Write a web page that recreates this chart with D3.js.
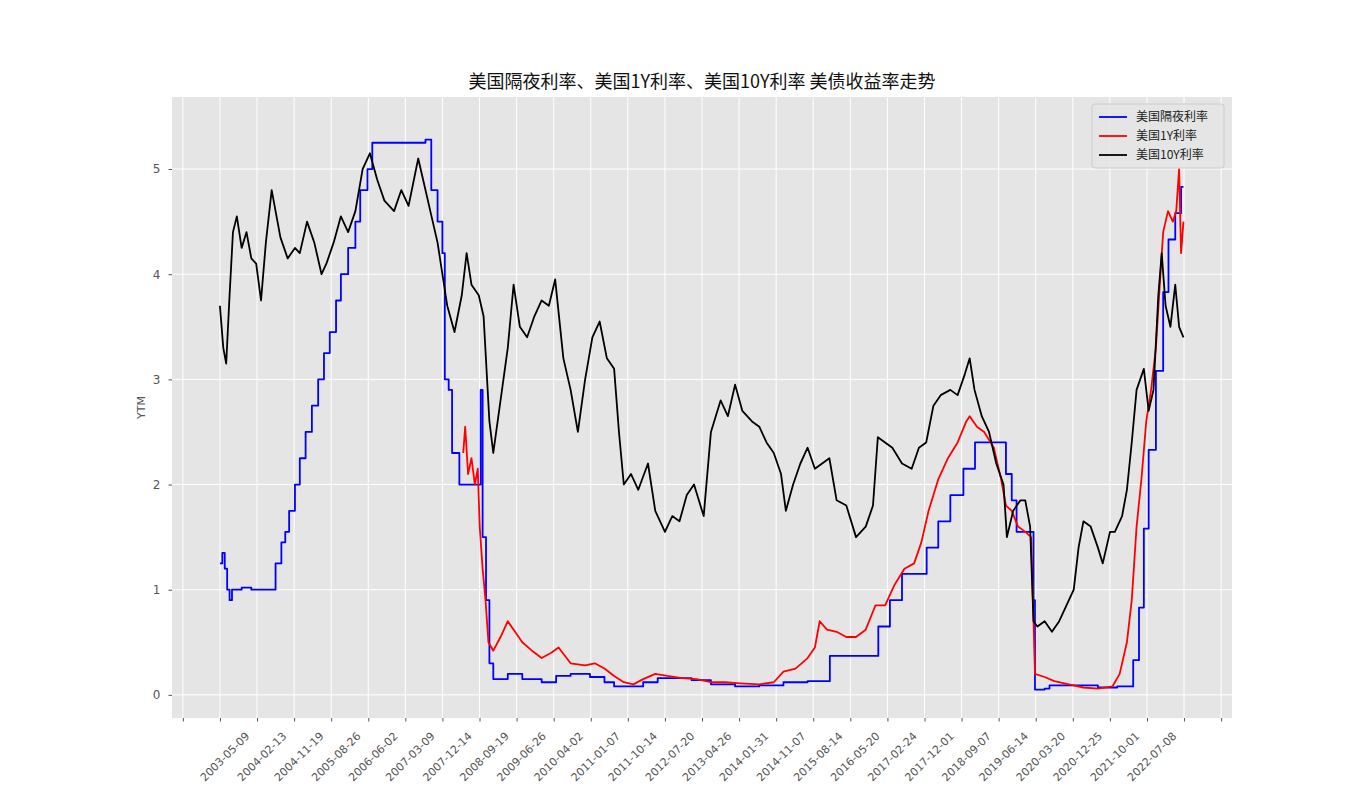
<!DOCTYPE html>
<html>
<head>
<meta charset="utf-8">
<script src="https://cdn.jsdelivr.net/npm/d3@7"></script>
<style>
  body { margin: 0; background: #fff; }
  text { font-family: "DejaVu Sans", "Noto Sans CJK SC", sans-serif; }
</style>
</head>
<body>
<svg id="chart" width="1368" height="808"></svg>
<script>
// readings from the picture: [year fraction, yield %]
var overnight = [
  [2003.35,1.25],[2003.40,1.35],[2003.45,1.2],[2003.5,1.0],[2003.55,0.9],[2003.6,1.0],[2003.8,1.02],
  [2004.0,1.0],[2004.45,1.0],[2004.5,1.25],[2004.62,1.45],[2004.7,1.55],[2004.78,1.75],[2004.9,2.0],
  [2005.0,2.25],[2005.12,2.5],[2005.25,2.75],[2005.38,3.0],[2005.5,3.25],[2005.62,3.45],[2005.75,3.75],
  [2005.85,4.0],[2006.0,4.25],[2006.15,4.5],[2006.25,4.8],[2006.4,5.0],[2006.5,5.25],[2007.6,5.28],
  [2007.72,4.8],[2007.85,4.5],[2007.95,4.2],[2008.0,3.0],[2008.08,2.9],[2008.15,2.3],[2008.3,2.0],
  [2008.7,2.0],[2008.74,2.9],[2008.78,1.5],[2008.85,0.9],[2008.92,0.3],[2009.0,0.15],[2009.3,0.2],
  [2009.6,0.15],[2010.0,0.12],[2010.3,0.18],[2010.6,0.2],[2011.0,0.17],[2011.3,0.12],[2011.5,0.08],
  [2011.8,0.08],[2012.1,0.12],[2012.4,0.16],[2012.8,0.16],[2013.1,0.14],[2013.5,0.1],[2014.0,0.08],
  [2014.5,0.09],[2015.0,0.12],[2015.5,0.13],[2015.96,0.37],[2016.96,0.65],[2017.2,0.9],[2017.45,1.15],
  [2017.96,1.4],[2018.2,1.65],[2018.45,1.9],[2018.72,2.15],[2018.96,2.4],[2019.56,2.4],[2019.6,2.1],
  [2019.72,1.85],[2019.82,1.55],[2020.17,0.9],[2020.2,0.05],[2020.4,0.06],[2020.5,0.09],[2021.0,0.09],
  [2021.5,0.07],[2021.9,0.08],[2022.23,0.33],[2022.35,0.83],[2022.45,1.58],[2022.55,2.33],[2022.7,3.08],
  [2022.85,3.83],[2022.96,4.33],[2023.1,4.58],[2023.22,4.83],[2023.27,4.83]
];
var oneYear = [
  [2008.38,2.3],[2008.42,2.55],[2008.48,2.1],[2008.55,2.25],[2008.62,2.0],[2008.68,2.15],[2008.72,1.6],
  [2008.78,1.2],[2008.84,0.9],[2008.9,0.5],[2009.0,0.42],[2009.15,0.55],[2009.3,0.7],[2009.45,0.6],
  [2009.6,0.5],[2009.8,0.42],[2010.0,0.35],[2010.2,0.4],[2010.35,0.45],[2010.6,0.3],[2010.9,0.28],
  [2011.1,0.3],[2011.3,0.25],[2011.5,0.18],[2011.7,0.12],[2011.9,0.1],[2012.1,0.15],[2012.35,0.2],
  [2012.6,0.18],[2012.9,0.16],[2013.2,0.15],[2013.5,0.12],[2013.8,0.12],[2014.1,0.11],[2014.5,0.1],
  [2014.8,0.12],[2015.0,0.22],[2015.25,0.25],[2015.5,0.35],[2015.65,0.45],[2015.75,0.7],[2015.9,0.62],
  [2016.1,0.6],[2016.3,0.55],[2016.5,0.55],[2016.7,0.62],[2016.9,0.85],[2017.1,0.85],[2017.3,1.05],
  [2017.5,1.2],[2017.7,1.25],[2017.85,1.45],[2018.0,1.75],[2018.2,2.05],[2018.4,2.25],[2018.6,2.4],
  [2018.78,2.6],[2018.85,2.65],[2019.0,2.55],[2019.15,2.5],[2019.35,2.35],[2019.5,2.05],[2019.6,1.8],
  [2019.72,1.75],[2019.85,1.6],[2020.0,1.55],[2020.12,1.5],[2020.17,0.7],[2020.2,0.2],[2020.4,0.17],
  [2020.6,0.13],[2020.9,0.1],[2021.2,0.07],[2021.5,0.06],[2021.8,0.08],[2021.95,0.2],[2022.1,0.5],
  [2022.2,0.9],[2022.3,1.6],[2022.4,2.05],[2022.5,2.6],[2022.6,2.9],[2022.7,3.3],[2022.78,3.9],
  [2022.85,4.4],[2022.95,4.6],[2023.05,4.5],[2023.12,4.6],[2023.18,5.0],[2023.22,4.2],[2023.27,4.5]
];
var tenYear = [
  [2003.35,3.7],[2003.42,3.3],[2003.48,3.15],[2003.55,3.8],[2003.62,4.4],[2003.7,4.55],[2003.8,4.25],
  [2003.9,4.4],[2004.0,4.15],[2004.1,4.1],[2004.2,3.75],[2004.3,4.3],[2004.42,4.8],[2004.5,4.6],
  [2004.6,4.35],[2004.75,4.15],[2004.9,4.25],[2005.0,4.2],[2005.15,4.5],[2005.3,4.3],[2005.45,4.0],
  [2005.55,4.1],[2005.7,4.3],[2005.85,4.55],[2006.0,4.4],[2006.15,4.6],[2006.3,5.0],[2006.45,5.15],
  [2006.6,4.9],[2006.75,4.7],[2006.95,4.6],[2007.1,4.8],[2007.25,4.65],[2007.45,5.1],[2007.55,4.9],
  [2007.7,4.6],[2007.85,4.3],[2007.95,4.0],[2008.05,3.7],[2008.2,3.45],[2008.35,3.8],[2008.45,4.2],
  [2008.55,3.9],[2008.7,3.8],[2008.8,3.6],[2008.92,2.6],[2009.0,2.3],[2009.15,2.8],[2009.3,3.3],
  [2009.42,3.9],[2009.55,3.5],[2009.7,3.4],[2009.85,3.6],[2010.0,3.75],[2010.15,3.7],[2010.28,3.95],
  [2010.45,3.2],[2010.6,2.9],[2010.75,2.5],[2010.9,3.0],[2011.05,3.4],[2011.2,3.55],[2011.35,3.2],
  [2011.5,3.1],[2011.6,2.5],[2011.7,2.0],[2011.85,2.1],[2012.0,1.95],[2012.2,2.2],[2012.35,1.75],
  [2012.55,1.55],[2012.7,1.7],[2012.85,1.65],[2013.0,1.9],[2013.15,2.0],[2013.35,1.7],[2013.5,2.5],
  [2013.7,2.8],[2013.85,2.65],[2014.0,2.95],[2014.15,2.7],[2014.35,2.6],[2014.5,2.55],[2014.65,2.4],
  [2014.8,2.3],[2014.95,2.1],[2015.05,1.75],[2015.2,2.0],[2015.35,2.2],[2015.5,2.35],[2015.65,2.15],
  [2015.8,2.2],[2015.95,2.25],[2016.1,1.85],[2016.3,1.8],[2016.5,1.5],[2016.7,1.6],[2016.85,1.8],
  [2016.95,2.45],[2017.1,2.4],[2017.25,2.35],[2017.45,2.2],[2017.65,2.15],[2017.8,2.35],[2017.95,2.4],
  [2018.1,2.75],[2018.25,2.85],[2018.45,2.9],[2018.6,2.85],[2018.75,3.05],[2018.85,3.2],[2018.95,2.9],
  [2019.1,2.65],[2019.25,2.5],[2019.4,2.2],[2019.55,2.0],[2019.62,1.5],[2019.75,1.75],[2019.9,1.85],
  [2020.0,1.85],[2020.1,1.6],[2020.17,0.7],[2020.25,0.65],[2020.4,0.7],[2020.55,0.6],[2020.7,0.7],
  [2020.85,0.85],[2021.0,1.0],[2021.1,1.4],[2021.2,1.65],[2021.35,1.6],[2021.5,1.4],[2021.6,1.25],
  [2021.75,1.55],[2021.85,1.55],[2022.0,1.7],[2022.1,1.95],[2022.2,2.4],[2022.3,2.9],[2022.45,3.1],
  [2022.55,2.7],[2022.65,2.9],[2022.75,3.8],[2022.82,4.2],[2022.9,3.7],[2023.0,3.5],[2023.1,3.9],
  [2023.18,3.5],[2023.27,3.4]
];
var seriesNames = ["美国隔夜利率", "美国1Y利率", "美国10Y利率"];
var seriesColors = ["#0000ff", "#ff0000", "#000000"];
var tickLabels = ["2003-05-09","2004-02-13","2004-11-19","2005-08-26","2006-06-02","2007-03-09",
  "2007-12-14","2008-09-19","2009-06-26","2010-04-02","2011-01-07","2011-10-14","2012-07-20",
  "2013-04-26","2014-01-31","2014-11-07","2015-08-14","2016-05-20","2017-02-24","2017-12-01",
  "2018-09-07","2019-06-14","2020-03-20","2020-12-25","2021-10-01","2022-07-08"];
var yTicks = [0, 1, 2, 3, 4, 5];

var parse = d3.utcParse("%Y-%m-%d");
function yr(f) {
  var y0 = Math.floor(f);
  var a = Date.UTC(y0, 0, 1), b = Date.UTC(y0 + 1, 0, 1);
  return new Date(a + (f - y0) * (b - a));
}

var svg = d3.select("#chart");
var mLeft = 172, mRight = 1232, mTop = 97, mBottom = 718;

var t0 = parse(tickLabels[0]), t1 = parse(tickLabels[tickLabels.length - 1]);
var pxPerDay = (1147 - 220) / (d3.utcDay.count(t0, t1));
var x = d3.scaleUtc()
  .domain([d3.utcDay.offset(t0, -Math.round(48 / pxPerDay)), d3.utcDay.offset(t1, Math.round(85 / pxPerDay))])
  .range([mLeft, mRight]);
var y = d3.scaleLinear().domain([-0.22, 5.685]).range([mBottom, mTop]);

svg.append("rect").attr("x", mLeft).attr("y", mTop)
  .attr("width", mRight - mLeft).attr("height", mBottom - mTop).attr("fill", "#e5e5e5");

// ticks every 280 days, incl. unlabeled ends
var allTicks = d3.range(-1, tickLabels.length + 2).map(k => d3.utcDay.offset(t0, 280 * k));
var fmt = d3.utcFormat("%Y-%m-%d");

var grid = svg.append("g");
allTicks.forEach(d => {
  grid.append("line").attr("x1", x(d)).attr("x2", x(d)).attr("y1", mTop).attr("y2", mBottom)
    .attr("stroke", "#fff").attr("stroke-width", 1);
});
yTicks.forEach(v => {
  grid.append("line").attr("x1", mLeft).attr("x2", mRight).attr("y1", y(v)).attr("y2", y(v))
    .attr("stroke", "#fff").attr("stroke-width", 1);
});

var xAxis = d3.axisBottom(x).tickValues(allTicks).tickSize(3.5).tickPadding(4)
  .tickFormat(d => tickLabels.indexOf(fmt(d)) >= 0 ? fmt(d) : "");
var gx = svg.append("g").attr("transform", "translate(0," + mBottom + ")").call(xAxis);
gx.select(".domain").remove();
gx.selectAll("line").attr("stroke", "#555");
gx.selectAll("text").attr("fill", "#555").style("font-size", "11px")
  .attr("text-anchor", "end").attr("x", 0).attr("y", 0).attr("dy", "0.35em")
  .attr("transform", "translate(27,16) rotate(-45)");

var yAxis = d3.axisLeft(y).tickValues(yTicks).tickSize(3.5).tickPadding(8).tickFormat(d3.format("d"));
var gy = svg.append("g").attr("transform", "translate(" + mLeft + ",0)").call(yAxis);
gy.select(".domain").remove();
gy.selectAll("line").attr("stroke", "#555");
gy.selectAll("text").attr("fill", "#555").style("font-size", "12px");

svg.append("text").attr("transform", "translate(145," + (mTop + mBottom) / 2 + ") rotate(-90)")
  .attr("text-anchor", "middle").attr("fill", "#555").style("font-size", "11px").text("YTM");

svg.append("text").attr("x", (mLeft + mRight) / 2).attr("y", 88).attr("text-anchor", "middle")
  .style("font-size", "18px").style("font-family", "Noto Sans CJK SC").attr("fill", "#111")
  .text("美国隔夜利率、美国1Y利率、美国10Y利率 美债收益率走势");

var line = d3.line().x(d => x(yr(d[0]))).y(d => y(d[1]));
var stepLine = d3.line().x(d => x(yr(d[0]))).y(d => y(d[1])).curve(d3.curveStepAfter);
var plot = svg.append("g");
[[overnight, stepLine], [oneYear, line], [tenYear, line]].forEach((s, i) => {
  plot.append("path").datum(s[0]).attr("d", s[1]).attr("fill", "none")
    .attr("stroke", seriesColors[i]).attr("stroke-width", 1.8).attr("stroke-linejoin", "round");
});

// legend
var lg = svg.append("g").attr("transform", "translate(1092,104)");
lg.append("rect").attr("width", 132).attr("height", 64).attr("rx", 3)
  .attr("fill", "#e5e5e5").attr("fill-opacity", 0.8).attr("stroke", "#ccc");
seriesNames.forEach((n, i) => {
  var yy = 13 + i * 19;
  lg.append("line").attr("x1", 7).attr("x2", 35).attr("y1", yy).attr("y2", yy)
    .attr("stroke", seriesColors[i]).attr("stroke-width", 1.8);
  lg.append("text").attr("x", 44).attr("y", yy + 4).style("font-size", "12px")
    .style("font-family", "Noto Sans CJK SC").attr("fill", "#222").text(n);
});
</script>
</body>
</html>
